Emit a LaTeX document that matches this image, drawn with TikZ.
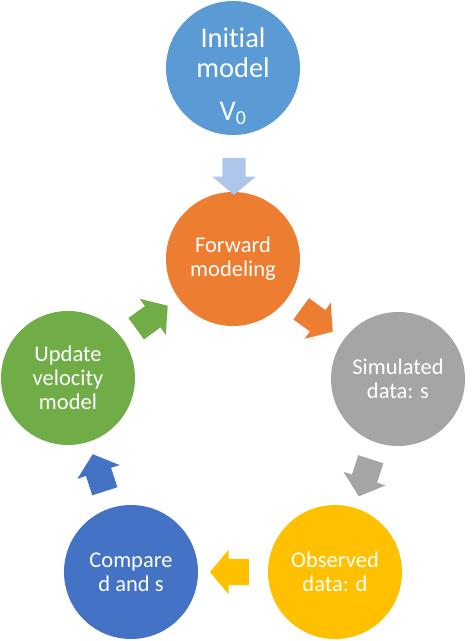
\documentclass[tikz,border=0pt]{standalone}
\usepackage{fontspec}
\setmainfont{Carlito}[Ligatures=NoCommon]
\usetikzlibrary{shapes.arrows,calc}
\definecolor{cInit}{HTML}{5B9BD5}
\definecolor{cFwd}{HTML}{ED7D31}
\definecolor{cSim}{HTML}{A5A5A5}
\definecolor{cObs}{HTML}{FFC000}
\definecolor{cCmp}{HTML}{4472C4}
\definecolor{cUpd}{HTML}{70AD47}
\definecolor{cLight}{HTML}{ADC6EA}
\tikzset{
  stagecircle/.style={circle, minimum size=134pt, inner sep=0pt, text=white,
    align=center, font=\fontsize{22.5}{24}\selectfont},
  stagetext/.style={text=white, align=center, inner sep=0pt},
  blockarrow/.style={shape=single arrow, draw=none, inner xsep=0pt, inner ysep=13pt,
    minimum height=39pt, single arrow head extend=9pt, single arrow tip angle=100},
}
\begin{document}
\begin{tikzpicture}[x=1pt,y=-1pt]
\useasboundingbox (0,0) rectangle (474,641);
\node[stagecircle, fill=cInit] (init) at (233,68) {};
\node[stagetext, font=\fontsize{28.5}{30}\selectfont] (initlabel) at (233,76)
  {Initial\\model\\[13pt]V\textsubscript{0}};
\node[stagecircle, fill=cFwd] (fwd) at (233,259) {Forward\\modeling};
\node[stagecircle, fill=cSim] (sim) at (398,379) {Simulated\\data: s};
\node[stagecircle, fill=cObs] (obs) at (335,572) {Observed\\data: d};
\node[stagecircle, fill=cCmp] (cmp) at (131,572) {Compare\\d and s};
\node[stagecircle, fill=cUpd] (upd) at (68,378) {Update\\velocity\\model};

\node[blockarrow, fill=cLight, rotate=-90, inner ysep=11.5pt, minimum height=37pt,
  single arrow head extend=10pt] (a0) at ($(init)!0.5!(fwd)+(1,8)$) {};
\node[blockarrow, fill=cFwd, rotate=-36] (a1) at ($(fwd)!0.5!(sim)+(-3,-2)$) {};
\node[blockarrow, fill=cSim, rotate=-108] (a2) at ($(sim)!0.5!(obs)+(0,-3)$) {};
\node[blockarrow, fill=cObs, rotate=180] (a3) at ($(obs)!0.5!(cmp)+(2,0)$) {};
\node[blockarrow, fill=cCmp, rotate=108] (a4) at ($(cmp)!0.5!(upd)+(1,3)$) {};
\node[blockarrow, fill=cUpd, rotate=36] (a5) at ($(upd)!0.5!(fwd)+(-3,2)$) {};
\end{tikzpicture}
\end{document}
